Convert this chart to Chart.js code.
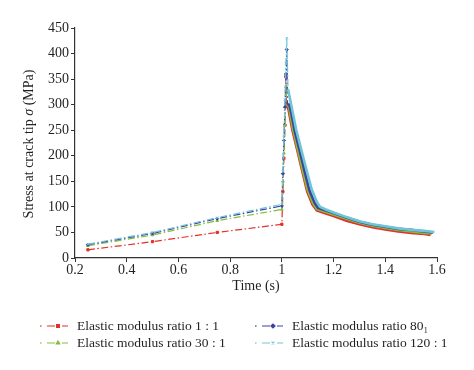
<!DOCTYPE html>
<html lang="en">
<head>
<meta charset="UTF-8">
<title>Stress at crack tip</title>
<script src="https://cdn.jsdelivr.net/npm/chart.js"></script>
<style>
  html, body { margin: 0; padding: 0; background: #fff; }
  #wrap { width: 474px; height: 370px; }
</style>
</head>
<body>
<div id="wrap"><canvas id="stress" width="474" height="370"></canvas></div>
<script>
// values: time (s) and stress at crack tip (MPa)
const ratio1Time = [0.25, 0.5, 0.75, 1.0, 1.004, 1.008, 1.012, 1.015, 1.018, 1.026, 1.04, 1.06, 1.079, 1.098, 1.118, 1.135, 1.17, 1.2, 1.25, 1.3, 1.35, 1.4, 1.45, 1.5, 1.55, 1.575];
const ratio1Stress = [16, 32, 50, 66, 130, 195, 260, 355, 300, 290, 252, 210, 170, 130, 105, 93, 87, 82, 73, 66, 60, 56, 52, 49, 47, 45];

const ratio30Time = [0.25, 0.5, 0.75, 1.0, 1.004, 1.008, 1.012, 1.016, 1.02, 1.028, 1.042, 1.062, 1.081, 1.1, 1.12, 1.135, 1.17, 1.2, 1.25, 1.3, 1.35, 1.4, 1.45, 1.5, 1.55, 1.58];
const ratio30Stress = [24, 45, 73, 95, 150, 205, 260, 335, 300, 295, 255, 212, 172, 133, 108, 96, 90, 85, 77, 69, 63, 59, 55, 52, 49, 48];

const ratio80Time = [0.25, 0.5, 0.75, 1.0, 1.004, 1.008, 1.012, 1.016, 1.019, 1.022, 1.029, 1.036, 1.05, 1.069, 1.088, 1.107, 1.127, 1.14, 1.17, 1.2, 1.25, 1.3, 1.35, 1.4, 1.45, 1.5, 1.55, 1.585];
const ratio80Stress = [26, 48, 77, 102, 165, 230, 295, 360, 408, 300, 300, 285, 248, 210, 170, 132, 108, 98, 93, 88, 79, 71, 65, 61, 57, 55, 52, 50];

const ratio120Time = [0.25, 0.5, 0.75, 1.0, 1.004, 1.008, 1.012, 1.016, 1.019, 1.024, 1.032, 1.04, 1.055, 1.075, 1.095, 1.115, 1.135, 1.148, 1.17, 1.2, 1.25, 1.3, 1.35, 1.4, 1.45, 1.5, 1.55, 1.59];
const ratio120Stress = [27, 50, 79, 105, 170, 240, 310, 380, 430, 330, 310, 290, 252, 212, 173, 135, 110, 100, 95, 89, 80, 72, 66, 62, 58, 55, 53, 51];

const seriesLabels = ['Elastic modulus ratio 1 : 1', 'Elastic modulus ratio 30 : 1', 'Elastic modulus ratio 80\u2081', 'Elastic modulus ratio 120 : 1'];
const xTicks = [0.2, 0.4, 0.6, 0.8, 1, 1.2, 1.4, 1.6];

const serif = "'Liberation Serif', 'DejaVu Serif', serif";
const ink = '#231f20';
const dashDot = [7, 2.5, 1.5, 2.5];

function toPoints(t, s) {
  return t.map((x, i) => ({ x: x, y: s[i] }));
}

function makeSet(label, t, s, color, marker, order) {
  const peak = t[s.indexOf(Math.max(...s))];
  return {
    label: label,
    data: toPoints(t, s),
    borderColor: color,
    backgroundColor: color,
    pointStyle: marker,
    pointRadius: c => (c.parsed && c.parsed.x > peak) ? 0 : 1.6,
    pointBorderWidth: 1,
    borderWidth: 1.2,
    borderDash: dashDot,
    tension: 0,
    order: order,
    // after the peak the points are so dense they read as a thick solid line
    segment: {
      borderDash: c => c.p0.parsed.x > peak ? [] : dashDot,
      borderWidth: c => c.p0.parsed.x > peak ? 2.6 : 1.2
    }
  };
}

const datasets = [
  makeSet(seriesLabels[0], ratio1Time, ratio1Stress, '#e2302a', 'rect', 4),
  makeSet(seriesLabels[1], ratio30Time, ratio30Stress, '#84bd3c', 'triangle', 3),
  makeSet(seriesLabels[2], ratio80Time, ratio80Stress, '#3a44a0', 'rectRot', 2),
  makeSet(seriesLabels[3], ratio120Time, ratio120Stress, '#70c4d8', 'crossRot', 1)
];

// y title with italic sigma + two-column legend under the plot
const extras = {
  id: 'extras',
  afterDraw(chart) {
    const ctx = chart.ctx;
    ctx.save();
    const parts = [
      ['Stress at crack tip ', 'normal'],
      ['\u03c3', 'italic'],
      [' (MPa)', 'normal']
    ];
    ctx.fillStyle = ink;
    let total = 0;
    parts.forEach(p => { ctx.font = p[1] + ' 14px ' + serif; total += ctx.measureText(p[0]).width; });
    ctx.translate(29, (chart.chartArea.top + chart.chartArea.bottom) / 2 + 1);
    ctx.rotate(-Math.PI / 2);
    ctx.textBaseline = 'middle';
    ctx.textAlign = 'left';
    let px = -total / 2;
    parts.forEach(p => {
      ctx.font = p[1] + ' 14px ' + serif;
      ctx.fillText(p[0], px, 0);
      px += ctx.measureText(p[0]).width;
    });
    ctx.restore();

    // legend
    const cols = [40, 255];
    const rows = [326, 343];
    chart.data.datasets.forEach((ds, i) => {
      const x0 = cols[Math.floor(i / 2)];
      const y = rows[i % 2];
      ctx.save();
      ctx.strokeStyle = ds.borderColor;
      ctx.fillStyle = ds.borderColor;
      ctx.lineWidth = 1.2;
      ctx.fillRect(x0, y - 0.6, 1.5, 1.2);
      ctx.beginPath();
      ctx.moveTo(x0 + 7, y); ctx.lineTo(x0 + 15, y);
      ctx.moveTo(x0 + 22, y); ctx.lineTo(x0 + 28, y);
      ctx.stroke();
      Chart.helpers.drawPoint(ctx, { pointStyle: ds.pointStyle, radius: 2, rotation: 0, borderWidth: 1 }, x0 + 18, y);
      ctx.fillStyle = ink;
      ctx.font = '13.5px ' + serif;
      ctx.textBaseline = 'middle';
      ctx.textAlign = 'left';
      ctx.fillText(ds.label, x0 + 37, y);
      ctx.restore();
    });
  }
};

new Chart(document.getElementById('stress'), {
  type: 'line',
  data: { datasets: datasets },
  options: {
    responsive: false,
    devicePixelRatio: 1,
    animation: false,
    layout: { padding: { top: 28, right: 37, bottom: 75, left: 0 } },
    plugins: { legend: { display: false }, tooltip: { enabled: false } },
    scales: {
      x: {
        type: 'linear',
        min: 0.2,
        max: 1.6,
        afterBuildTicks: s => { s.ticks = xTicks.map(v => ({ value: v })); },
        afterFit: s => { s.height = 37; },
        ticks: { color: ink, padding: 0, font: { family: serif, size: 14 }, callback: v => String(+v.toFixed(1)) },
        grid: { display: true, drawOnChartArea: false, tickLength: 4, color: '#333' },
        border: { display: true, color: '#333', width: 1.2 },
        title: { display: true, text: 'Time (s)', color: ink, padding: 0, font: { family: serif, size: 14 } }
      },
      y: {
        min: 0,
        max: 450,
        afterFit: s => { s.width = 75; },
        ticks: { stepSize: 50, color: ink, padding: 2, font: { family: serif, size: 14 } },
        grid: { display: true, drawOnChartArea: false, tickLength: 4, color: '#333' },
        border: { display: true, color: '#333', width: 1.2 }
      }
    }
  },
  plugins: [extras]
});
</script>
</body>
</html>
